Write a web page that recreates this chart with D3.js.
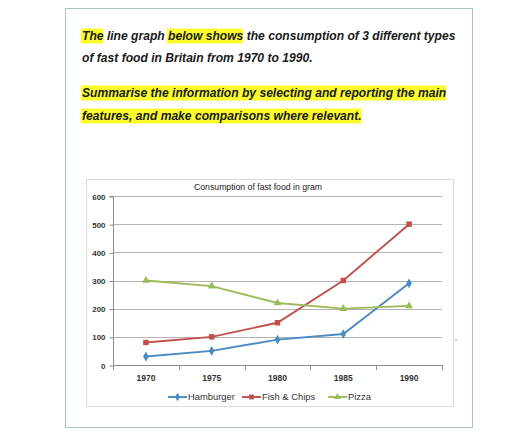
<!DOCTYPE html>
<html>
<head>
<meta charset="utf-8">
<script src="https://cdn.jsdelivr.net/npm/d3@7/dist/d3.min.js"></script>
<style>
  body { margin: 0; background: #fff; }
  svg { display: block; }
</style>
</head>
<body>
<script>
// data
const years = ["1970", "1975", "1980", "1985", "1990"];
const hamburger = [30, 50, 90, 110, 290];
const fishChips = [80, 100, 150, 300, 500];
const pizza = [300, 280, 220, 200, 210];
const yTicks = [0, 100, 200, 300, 400, 500, 600];
const seriesNames = ["Hamburger", "Fish & Chips", "Pizza"];

const series = [
  {name: seriesNames[0], values: hamburger, color: "#4a8bc4", marker: "diamond"},
  {name: seriesNames[1], values: fishChips, color: "#c0504d", marker: "square"},
  {name: seriesNames[2], values: pizza, color: "#9bbb59", marker: "triangle"}
];

const textLines = [
  {y: 36, parts: [["The", true], [" line graph ", false], ["below shows", true], [" the consumption of 3 different types", false]]},
  {y: 58, parts: [["of fast food in Britain from 1970 to 1990.", false]]},
  {y: 93, parts: [["Summarise the information by selecting and reporting the main", true]]},
  {y: 116, parts: [["features, and make comparisons where relevant.", true]]}
];

const svg = d3.select("body").append("svg")
  .attr("width", 512)
  .attr("height", 445);

// outer frame
svg.append("rect")
  .attr("x", 65.5).attr("y", 8.5)
  .attr("width", 407).attr("height", 419)
  .attr("fill", "#fff")
  .attr("stroke", "#a3c3cf")
  .attr("stroke-width", 1);

// question text with highlights
const gText = svg.append("g").attr("class", "question");
textLines.forEach((line) => {
  let x = 82;
  line.parts.forEach(([t, hl]) => {
    const hlRect = gText.append("rect");
    const txt = gText.append("text")
      .attr("x", x)
      .attr("y", line.y)
      .attr("dy", "0.36em")
      .attr("font-family", "Liberation Sans, Arial, sans-serif")
      .attr("font-size", 12.1)
      .attr("font-weight", "bold")
      .attr("font-style", "italic")
      .attr("fill", "#1a1a1a")
      .style("white-space", "pre")
      .attr("xml:space", "preserve")
      .text(t);
    const w = txt.node().getComputedTextLength();
    if (hl) {
      hlRect.attr("x", x - 1).attr("y", line.y - 7.5)
        .attr("width", w + 1).attr("height", 15)
        .attr("fill", "#fcfc2c");
    } else {
      hlRect.remove();
    }
    x += w;
  });
});

// chart box
svg.append("rect")
  .attr("x", 86.5).attr("y", 179.5)
  .attr("width", 367).attr("height", 227)
  .attr("fill", "#fff")
  .attr("stroke", "#dcdcdc");

const plot = {left: 113, right: 442, top: 196, bottom: 365};

const xScale = d3.scaleBand()
  .domain(years)
  .range([plot.left, plot.right]);

const yScale = d3.scaleLinear()
  .domain([0, 600])
  .range([plot.bottom, plot.top]);

// gridlines
svg.append("g")
  .selectAll("line")
  .data(yTicks.filter((d) => d > 0))
  .enter()
  .append("line")
  .attr("x1", plot.left).attr("x2", plot.right)
  .attr("y1", (d) => Math.round(yScale(d)) + 0.5)
  .attr("y2", (d) => Math.round(yScale(d)) + 0.5)
  .attr("stroke", "#b3b3b3")
  .attr("stroke-width", 1);

// y axis
const yAxis = d3.axisLeft(yScale)
  .tickValues(yTicks)
  .tickSize(4)
  .tickPadding(4);

const gy = svg.append("g")
  .attr("transform", `translate(${plot.left + 0.5}, 0.5)`)
  .call(yAxis);
gy.select(".domain").attr("stroke", "#8c8c8c").attr("d", `M-4,${yScale(600)}H0V${yScale(0)}`);
gy.selectAll(".tick line").attr("stroke", "#8c8c8c");
gy.selectAll(".tick text")
  .attr("font-family", "Liberation Sans, Arial, sans-serif")
  .attr("font-size", 7.9)
  .attr("font-weight", "bold")
  .attr("fill", "#333");

// x axis
const xAxis = d3.axisBottom(xScale)
  .tickSize(0)
  .tickPadding(9);

const gx = svg.append("g")
  .attr("transform", `translate(0, ${plot.bottom + 0.5})`)
  .call(xAxis);
gx.select(".domain").attr("stroke", "#8c8c8c").attr("d", `M${plot.left},0H${plot.right}`);
gx.selectAll(".tick text")
  .attr("font-family", "Liberation Sans, Arial, sans-serif")
  .attr("font-size", 8.5)
  .attr("font-weight", "bold")
  .attr("fill", "#333");

// band boundary ticks
svg.append("g")
  .selectAll("line")
  .data(years.map((d) => xScale(d)).concat([plot.right]))
  .enter()
  .append("line")
  .attr("x1", (d) => Math.round(d) + 0.5).attr("x2", (d) => Math.round(d) + 0.5)
  .attr("y1", plot.bottom).attr("y2", plot.bottom + 5)
  .attr("stroke", "#8c8c8c");

// title
svg.append("text")
  .attr("x", 258)
  .attr("y", 187)
  .attr("dy", "0.35em")
  .attr("text-anchor", "middle")
  .attr("font-family", "Liberation Sans, Arial, sans-serif")
  .attr("font-size", 8.7)
  .attr("fill", "#222")
  .text("Consumption of fast food in gram");

const cx = (i) => xScale(years[i]) + xScale.bandwidth() / 2;

function markerPath(type, size) {
  if (type === "diamond") return d3.symbol().type(d3.symbolDiamond).size(size * 0.9)();
  if (type === "square") return d3.symbol().type(d3.symbolSquare).size(size)();
  return d3.symbol().type(d3.symbolTriangle).size(size * 0.9)();
}

const line = d3.line()
  .x((d, i) => cx(i))
  .y((d) => yScale(d));

series.forEach((s) => {
  svg.append("path")
    .datum(s.values)
    .attr("d", line)
    .attr("fill", "none")
    .attr("stroke", s.color)
    .attr("stroke-width", 1.9);
  svg.append("g")
    .selectAll("path")
    .data(s.values)
    .enter()
    .append("path")
    .attr("transform", (d, i) => `translate(${cx(i)}, ${yScale(d)})`)
    .attr("d", markerPath(s.marker, 30))
    .attr("fill", s.color);
});

// legend
const legendX = [168, 242, 328];
series.forEach((s, i) => {
  const g = svg.append("g").attr("transform", `translate(${legendX[i]}, 397)`);
  g.append("line")
    .attr("x1", 0).attr("x2", 19)
    .attr("stroke", s.color).attr("stroke-width", 1.9);
  g.append("path")
    .attr("transform", "translate(9.5, 0)")
    .attr("d", markerPath(s.marker, 24))
    .attr("fill", s.color);
  g.append("text")
    .attr("x", 20)
    .attr("dy", "0.35em")
    .attr("font-family", "Liberation Sans, Arial, sans-serif")
    .attr("font-size", 9.4)
    .attr("fill", "#333")
    .text(s.name);
});

// stray dot at right
svg.append("circle")
  .attr("cx", 456).attr("cy", 340).attr("r", 0.8)
  .attr("fill", "#888");
</script>
</body>
</html>
